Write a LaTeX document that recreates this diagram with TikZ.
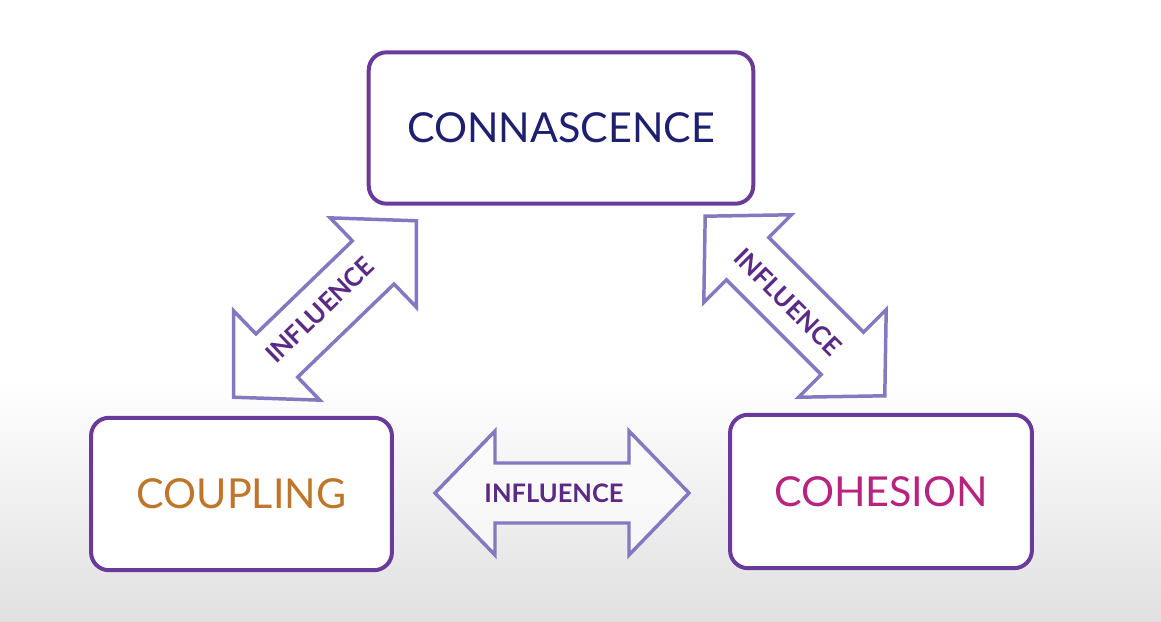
\documentclass[tikz,border=0pt]{standalone}
\usepackage{fontspec}
\setmainfont{Lato}
\newdimen\pxu \pxu=0.567pt
\definecolor{boxc}{HTML}{6A3A9A}
\definecolor{arrc}{HTML}{8478C0}
\definecolor{inftxt}{HTML}{5A2A86}
\definecolor{conc}{HTML}{1F1F70}
\definecolor{coupc}{HTML}{C0762A}
\definecolor{cohc}{HTML}{B8237F}
\tikzset{
  box/.style={draw=boxc, line width=4\pxu, rounded corners=18\pxu, fill=white, inner sep=0pt},
  lbl/.style={font=\fontsize{23.5}{26}\selectfont},
  inf/.style={text=inftxt, font=\bfseries\fontsize{14.5}{16}\selectfont},
  arrline/.style={draw=arrc, line width=3.5\pxu, line join=miter, fill=white, fill opacity=0.6},
  dbl/.pic={\path[arrline] (-127,0) -- (-67,-62) -- (-67,-30) -- (67,-30) -- (67,-62) -- (127,0) -- (67,62) -- (67,30) -- (-67,30) -- (-67,62) -- cycle;}
}
\begin{document}
\begin{tikzpicture}[x=0.02cm,y=-0.02cm]
\useasboundingbox (0,0) rectangle (1161,622);
\fill[white] (0,0) rectangle (1161,622);
\shade[top color=white, bottom color=black!12] (0,380) rectangle (1161,622);
\node[box, minimum width=386\pxu, minimum height=152\pxu] (con) at (561,128) {};
\node[box, minimum width=302\pxu, minimum height=153\pxu] (coup) at (241.5,494) {};
\node[box, minimum width=303\pxu, minimum height=154\pxu] (coh) at (881,491.5) {};
\node[lbl, text=conc] at (con) {CONNASCENCE};
\node[lbl, text=coupc] at (coup) {COUPLING};
\node[lbl, text=cohc] at (coh) {COHESION};
\pic at (562,493) {dbl};
\node[inf] (i1) at (554,493) {INFLUENCE};
\pic[rotate=44] at (325,309) {dbl};
\node[inf, rotate=44] (i2) at (320,310) {INFLUENCE};
\pic[rotate=-45] at (795,306) {dbl};
\node[inf, rotate=-45] (i3) at (788,302) {INFLUENCE};
\end{tikzpicture}
\end{document}
